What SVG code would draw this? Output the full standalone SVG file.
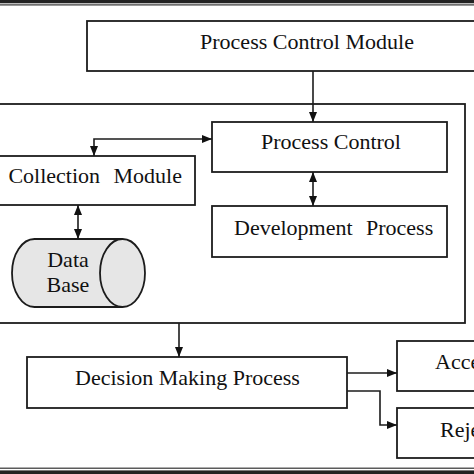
<svg xmlns="http://www.w3.org/2000/svg" width="474" height="474" viewBox="0 0 474 474">
<style>
.box{fill:#fff;stroke:#1c1c1c;stroke-width:1.8}
.t{font-family:"Liberation Serif","Times New Roman",serif;font-size:22px;fill:#111}
.c{stroke:#1c1c1c;stroke-width:1.6;fill:none}
</style>
<defs>
<marker id="ah" viewBox="0 0 10 8" refX="10" refY="4" markerWidth="10" markerHeight="8" markerUnits="userSpaceOnUse" orient="auto-start-reverse">
<path d="M0,0 L10,4 L0,8 z" fill="#111"/>
</marker>
</defs>
<rect x="0" y="0" width="474" height="474" fill="#fff"/>
<rect x="0" y="0" width="474" height="3.3" fill="#222"/>
<rect x="0" y="4.3" width="474" height="1.2" fill="#333"/>
<rect x="0" y="467.6" width="474" height="1.2" fill="#333"/>
<rect x="0" y="470.4" width="474" height="3.6" fill="#222"/>

<g id="container"><rect class="box" x="-5" y="104" width="470" height="219"/></g>

<g id="pcm"><rect class="box" x="87" y="21" width="400" height="50"/><text class="t" x="307" y="49" text-anchor="middle">Process Control Module</text></g>
<g id="pc"><rect class="box" x="212" y="122" width="235" height="50"/><text class="t" x="331" y="149" text-anchor="middle">Process Control</text></g>
<g id="dp"><rect class="box" x="212" y="206" width="235" height="51"/><text class="t" x="234" y="235" word-spacing="8">Development Process</text></g>
<g id="dcm"><rect class="box" x="-5" y="156" width="200" height="49"/><text class="t" x="182" y="183" text-anchor="end" word-spacing="8">Collection Module</text></g>
<g id="db">
<path d="M122.5,239 L34.5,239 A22.5,34 0 0 0 34.5,307 L122.5,307" fill="#e6e6e6" stroke="#1c1c1c" stroke-width="1.8"/>
<ellipse cx="122.5" cy="273" rx="22.5" ry="34" fill="#e6e6e6" stroke="#1c1c1c" stroke-width="1.8"/>
<text class="t" x="68" y="267" text-anchor="middle">Data</text>
<text class="t" x="68" y="292" text-anchor="middle">Base</text>
</g>
<g id="dmp"><rect class="box" x="27" y="357" width="320" height="51"/><text class="t" x="187.5" y="385" text-anchor="middle">Decision Making Process</text></g>
<g id="acc"><rect class="box" x="397" y="341" width="100" height="50"/><text class="t" x="435" y="369">Accept</text></g>
<g id="rej"><rect class="box" x="397" y="408" width="100" height="50"/><text class="t" x="440" y="437">Reject</text></g>

<g id="connectors">
<path class="c" d="M313,71 V122" marker-end="url(#ah)"/>
<path class="c" d="M94,156 V139 H212" marker-start="url(#ah)" marker-end="url(#ah)"/>
<path class="c" d="M78,205 V239" marker-start="url(#ah)" marker-end="url(#ah)"/>
<path class="c" d="M313,172 V206" marker-start="url(#ah)" marker-end="url(#ah)"/>
<path class="c" d="M179,323 V357" marker-end="url(#ah)"/>
<path class="c" d="M347,373 H397" marker-end="url(#ah)"/>
<path class="c" d="M347,391 H380 V425 H397" marker-end="url(#ah)"/>
</g>
</svg>
